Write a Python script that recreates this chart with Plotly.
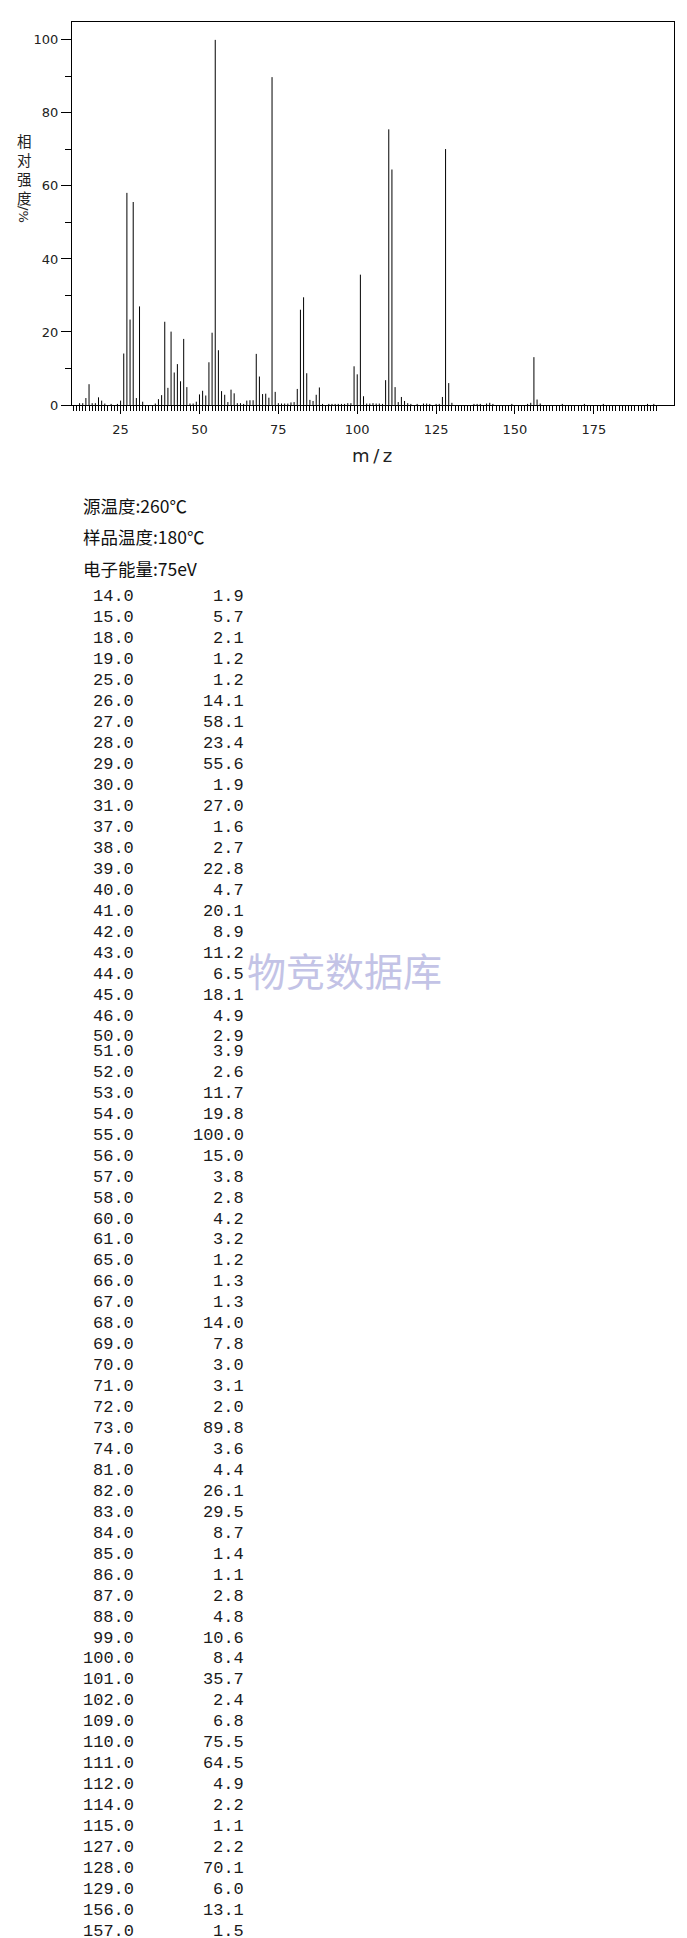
import plotly.graph_objects as go

# ---------------- data ----------------
mz = [14, 15, 18, 19, 25, 26, 27, 28, 29, 30, 31, 37, 38, 39, 40, 41, 42, 43, 44, 45, 46,
      50, 51, 52, 53, 54, 55, 56, 57, 58, 60, 61, 65, 66, 67, 68, 69, 70, 71, 72, 73, 74,
      81, 82, 83, 84, 85, 86, 87, 88, 99, 100, 101, 102, 109, 110, 111, 112, 114, 115,
      127, 128, 129, 156, 157]
intensity = [1.9, 5.7, 2.1, 1.2, 1.2, 14.1, 58.1, 23.4, 55.6, 1.9, 27.0, 1.6, 2.7, 22.8, 4.7,
             20.1, 8.9, 11.2, 6.5, 18.1, 4.9, 2.9, 3.9, 2.6, 11.7, 19.8, 100.0, 15.0, 3.8, 2.8,
             4.2, 3.2, 1.2, 1.3, 1.3, 14.0, 7.8, 3.0, 3.1, 2.0, 89.8, 3.6, 4.4, 26.1, 29.5, 8.7,
             1.4, 1.1, 2.8, 4.8, 10.6, 8.4, 35.7, 2.4, 6.8, 75.5, 64.5, 4.9, 2.2, 1.1, 2.2, 70.1,
             6.0, 13.1, 1.5]

# small peaks visible in the spectrum but not listed in the table (estimated)
minor_mz = [12, 13, 16, 17, 20, 22, 24, 32, 36, 47, 48, 49, 59, 62, 63, 64,
            75, 76, 77, 78, 79, 80, 89, 91, 92, 93, 94, 95, 96, 97, 98,
            103, 104, 105, 106, 107, 108, 113, 116, 117, 119, 121, 122, 123, 125, 126,
            130, 137, 138, 139, 141, 142, 143, 149, 154, 155, 158, 165, 172, 178, 192, 194]
minor_int = [0.5, 0.5, 0.5, 0.5, 0.4, 0.3, 0.3, 0.9, 0.4, 0.4, 0.4, 0.9, 0.8, 0.5, 0.5, 0.3,
             0.5, 0.4, 0.4, 0.4, 0.7, 0.8, 0.3, 0.3, 0.3, 0.3, 0.3, 0.3, 0.3, 0.5, 0.5,
             0.4, 0.4, 0.5, 0.4, 0.4, 0.3, 0.8, 0.5, 0.3, 0.3, 0.4, 0.4, 0.3, 0.3, 0.3,
             0.6, 0.3, 0.3, 0.3, 0.4, 0.6, 0.3, 0.3, 0.3, 0.6, 0.4, 0.3, 0.3, 0.3, 0.3, 0.3]

x_tick_labels = ["25", "50", "75", "100", "125", "150", "175"]
y_tick_labels = ["0", "20", "40", "60", "80", "100"]

header_lines = ["源温度:260℃", "样品温度:180℃", "电子能量:75eV"]
y_title_chars = ["相", "对", "强", "度"]
y_title_tail = "/%"
x_title = "m/z"
watermark = "物竞数据库"

# ---------------- geometry (page pixels) ----------------
PAGE_W, PAGE_H = 687, 1938
BODY = 8                      # default page margin around the plot div
FIG_W, FIG_H = PAGE_W - BODY, PAGE_H - BODY
L, R, T, B = 72, 674, 22, 405  # plot area in page pixels


def px_x(px):
    return (px - L) / (R - L)


def px_y(py):
    return (B - py) / (B - T)


# ---------------- bars ----------------
all_mz = mz + minor_mz
all_int = intensity + minor_int
xs, ys = [], []
for m, v in zip(all_mz, all_int):
    xs += [m, m, None]
    ys += [0, v, None]

fig = go.Figure()
fig.add_trace(go.Scatter(x=xs, y=ys, mode="lines",
                         line=dict(color="black", width=1),
                         hoverinfo="skip", showlegend=False))

major_x = list(range(10, 196, 5))
lab_iter = iter(x_tick_labels)
major_x_text = [next(lab_iter) if v % 25 == 0 else "" for v in major_x]

tick_font = dict(family="DejaVu Sans", size=13, color="#222")

fig.update_layout(
    width=FIG_W, height=FIG_H,
    margin=dict(l=L - BODY, r=PAGE_W - R, t=T - BODY, b=PAGE_H - B, pad=0),
    paper_bgcolor="white", plot_bgcolor="white",
    showlegend=False,
    xaxis=dict(range=[9.6, 200.4], showline=True, linecolor="black", linewidth=1,
               mirror=True, showgrid=False, zeroline=False,
               ticks="outside", ticklen=8, tickcolor="black", tickwidth=1,
               tickmode="array", tickvals=major_x, ticktext=major_x_text,
               tickfont=tick_font, ticklabelstandoff=4,
               minor=dict(tickmode="array", tickvals=list(range(10, 196)),
                          ticks="outside", ticklen=5, tickcolor="black", tickwidth=1,
                          showgrid=False)),
    yaxis=dict(range=[0, 104.9], showline=True, linecolor="black", linewidth=1,
               mirror=True, showgrid=False, zeroline=False,
               ticks="outside", ticklen=10, tickcolor="black", tickwidth=1,
               tickmode="array", tickvals=[0, 20, 40, 60, 80, 100], ticktext=y_tick_labels,
               tickfont=tick_font, ticklabelstandoff=0,
               minor=dict(tickmode="array", tickvals=[10, 30, 50, 70, 90],
                          ticks="outside", ticklen=6, tickcolor="black", tickwidth=1,
                          showgrid=False)),
)

ann = []


def add_text(text, px, py, size, family, xanchor="left", color="black", angle=0):
    ann.append(dict(text=text, x=px_x(px), y=px_y(py), xref="paper", yref="paper",
                    xanchor=xanchor, yanchor="middle", showarrow=False, textangle=angle,
                    font=dict(size=size, family=family, color=color), borderpad=0))


cjk = "Noto Sans CJK SC"
# y title: upright CJK characters stacked, latin part rotated
add_text("<br>".join(y_title_chars), 24, 168.5, 14.5, cjk, xanchor="center", color="#222")
add_text(y_title_tail, 24, 214, 13, "DejaVu Sans", xanchor="center", color="#222", angle=90)

# x title
add_text("m\u2009/\u2009z", 371.7, 455, 18, "DejaVu Sans", xanchor="center", color="#222")

# header lines
for line, py in zip(header_lines, [505, 536, 568]):
    add_text(line, 82, py, 17.5, cjk, xanchor="left", color="#111")

# peak table
mono = "Liberation Mono"
for i, (m, v) in enumerate(zip(mz, intensity)):
    py = 597 + 20.95 * i - (6.5 if i >= 22 else 0)
    add_text(f"{m:.1f}", 134.5, py, 17, mono, xanchor="right", color="#1a1a1a")
    add_text(f"{v:.1f}", 244.5, py, 17, mono, xanchor="right", color="#1a1a1a")

# watermark
add_text(watermark, 344, 969, 39, cjk, xanchor="center", color="#c3c3e6")

fig.update_layout(annotations=ann)
fig.write_html("out.html")
